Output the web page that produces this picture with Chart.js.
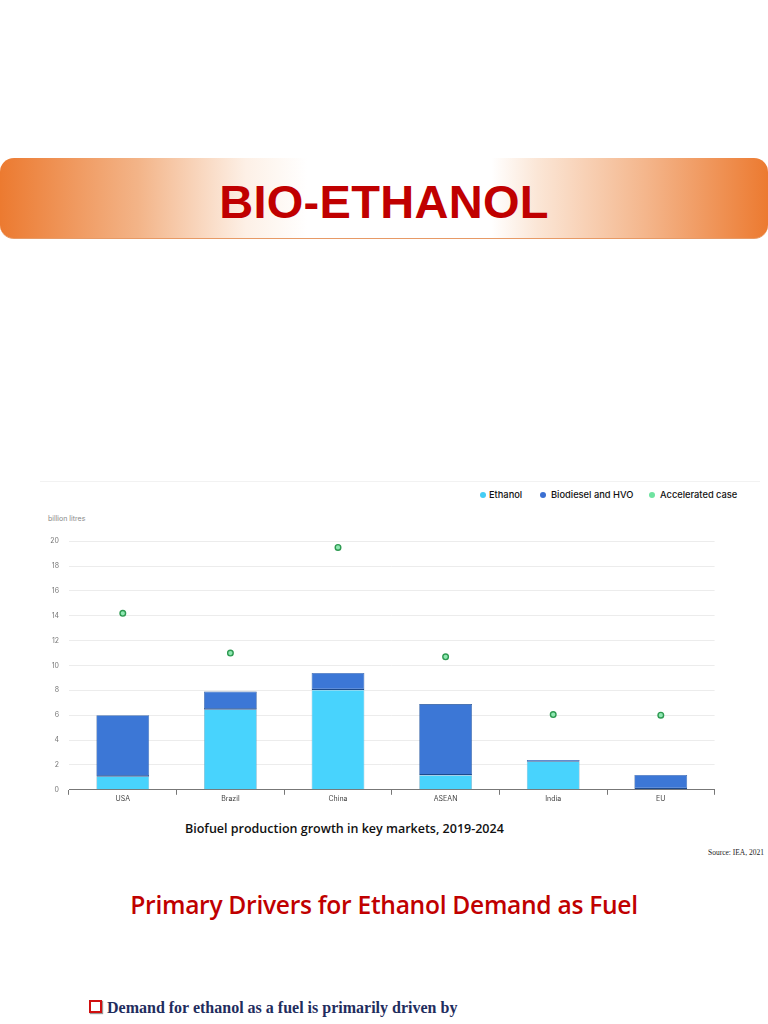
<!DOCTYPE html>
<html>
<head>
<meta charset="utf-8">
<script src="https://cdn.jsdelivr.net/npm/chart.js@4"></script>
<style>
    body { margin: 0; width: 768px; height: 1024px; background: #fff; position: relative; overflow: hidden; font-family: "Liberation Sans", Arial, sans-serif; }
    .banner {
        position: absolute; left: 0; top: 158px; width: 768px; height: 80px;
        border-radius: 14px;
        background: linear-gradient(to right, #ec7a30 0%, #f3b488 18%, #fdf0e6 32%, #ffffff 40%, #ffffff 64%, #fbe6d6 70%, #f4b68c 84%, #ec7a30 100%);
        border-bottom: 1px solid #e79a66;
    }
    .banner span {
        position: absolute; left: 0; right: 0; top: 16px; text-align: center;
        font: bold 47px "Liberation Sans", Arial, sans-serif; color: #c00000; letter-spacing: 0.3px;
    }
    .topline { position: absolute; left: 40px; top: 481px; width: 720px; height: 1px; background: #f2f2f2; }
    .legend { position: absolute; top: 489px; font: 500 9.3px Inter, "Noto Sans", sans-serif; color: #111; }
    .legend i { position: absolute; top: 3px; width: 6px; height: 6px; border-radius: 50%; }
    .unit { position: absolute; left: 48px; top: 514px; font: 7px Inter, "Noto Sans", sans-serif; color: #888; }
    #wrap { position: absolute; left: 40px; top: 527px; width: 680px; height: 277px; }
    .caption { position: absolute; left: 185px; top: 820px; font: 600 12.5px "Open Sans", sans-serif; color: #111; }
    .source { position: absolute; right: 4px; top: 848px; font: 7.5px "Liberation Serif", serif; color: #222; }
    .drivers { position: absolute; left: 0; right: 0; top: 888px; text-align: center; font: 600 24.6px "Open Sans", sans-serif; color: #c00000; letter-spacing: -0.3px; }
    .bullet { position: absolute; left: 89px; top: 999px; font: bold 16px "Liberation Serif", serif; color: #1f2d5e; }
    .bullet b { display: inline-block; width: 9px; height: 9px; border: 2px solid #d01010; margin-right: 5px; vertical-align: 0px; box-shadow: 1px 1px 1px #999; }
</style>
</head>
<body>
<div class="banner"><span>BIO-ETHANOL</span></div>
<div class="topline"></div>

<div class="legend" style="left:489px"><i style="left:-9px;background:#45cdf5"></i>Ethanol</div>
<div class="legend" style="left:551px"><i style="left:-11px;background:#3b6fd2"></i>Biodiesel and HVO</div>
<div class="legend" style="left:660px"><i style="left:-11px;background:#6fe3a0"></i>Accelerated case</div>
<div class="unit">billion litres</div>

<div id="wrap"><canvas id="biofuelChart"></canvas></div>

<div class="caption">Biofuel production growth in key markets, 2019-2024</div>
<div class="source">Source: IEA, 2021</div>
<div class="drivers">Primary Drivers for Ethanol Demand as Fuel</div>
<div class="bullet"><b></b>Demand for ethanol as a fuel is primarily driven by</div>

<script>
// --- Data ---
const markets = ['USA', 'Brazil', 'China', 'ASEAN', 'India', 'EU'];
const ethanol = [1.05, 6.45, 8.0, 1.15, 2.25, 0];
const biodieselHvo = [4.95, 1.45, 1.4, 5.75, 0.15, 1.2];
const acceleratedCase = [14.2, 11.0, 19.5, 10.7, 6.05, 6.0];
const yTicks = [0, 2, 4, 6, 8, 10, 12, 14, 16, 18, 20];

const tickFont = { family: "Inter, 'Noto Sans', sans-serif", size: 7 };

const ctx = document.getElementById('biofuelChart').getContext('2d');
new Chart(ctx, {
    type: 'bar',
    data: {
        labels: markets,
        datasets: [
            {
                label: 'Accelerated case',
                type: 'line',
                data: acceleratedCase,
                showLine: false,
                pointRadius: 2.8,
                pointBackgroundColor: '#8fe8b2',
                pointBorderColor: '#2f9a52',
                pointBorderWidth: 1.4,
                order: 0
            },
            {
                label: 'Ethanol',
                data: ethanol,
                backgroundColor: '#48d3fd',
                borderColor: '#6a9fb8',
                borderWidth: { top: 0, left: 0.6, right: 0.6, bottom: 0 },
                borderSkipped: false,
                stack: 'a',
                order: 1
            },
            {
                label: 'Biodiesel and HVO',
                data: biodieselHvo,
                backgroundColor: '#3c77d6',
                borderColor: '#1d4a8c',
                borderWidth: { top: 0.6, left: 0.6, right: 0.6, bottom: 1.5 },
                borderSkipped: false,
                stack: 'a',
                order: 1
            }
        ]
    },
    options: {
        responsive: true,
        maintainAspectRatio: false,
        animation: false,
        layout: { padding: { top: 5, right: 4, bottom: 0, left: 0 } },
        datasets: { bar: { categoryPercentage: 1, barPercentage: 0.49 } },
        plugins: {
            legend: { display: false },
            tooltip: { enabled: false }
        },
        scales: {
            x: {
                stacked: true,
                grid: { display: true, drawOnChartArea: false, drawTicks: true, tickLength: 5, color: '#777' },
                border: { display: true, color: '#777', width: 1 },
                ticks: { font: tickFont, color: '#444', padding: 0 }
            },
            y: {
                stacked: true,
                min: 0,
                max: 20,
                afterFit: (scale) => { scale.width = 29; },
                afterBuildTicks: (scale) => { scale.ticks = yTicks.map(v => ({ value: v })); },
                grid: { color: '#ececec', drawTicks: false },
                border: { display: false },
                ticks: { font: tickFont, color: '#777', padding: 10, align: 'center' }
            }
        }
    }
});
</script>
</body>
</html>
